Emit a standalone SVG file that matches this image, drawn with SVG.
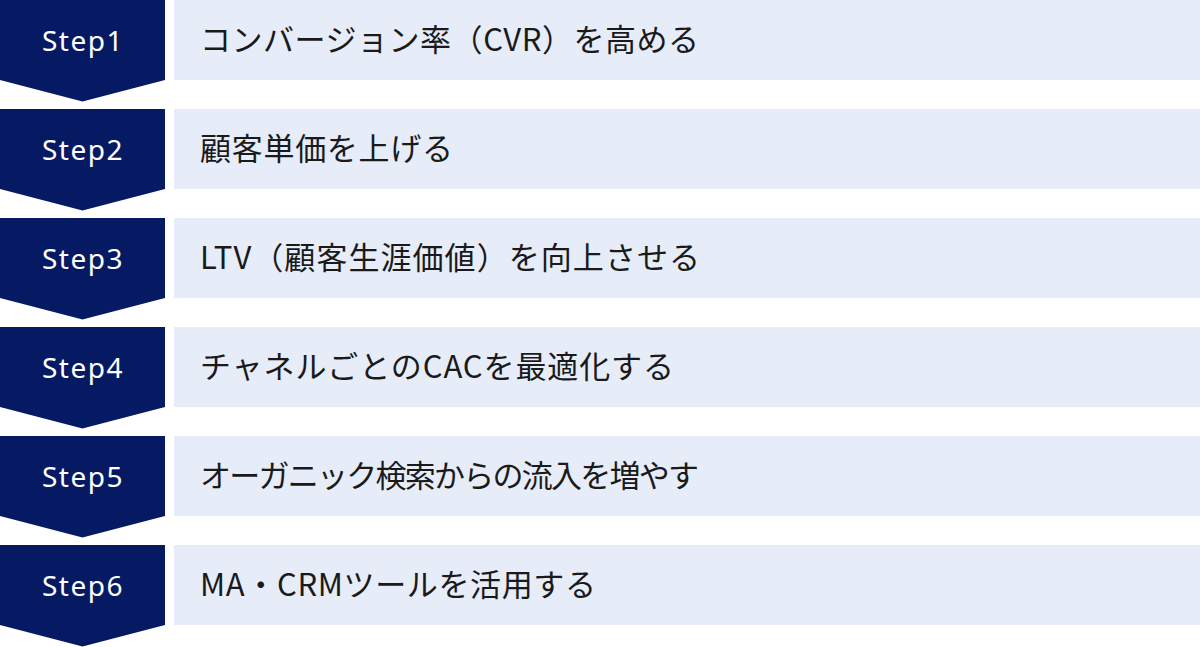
<svg xmlns="http://www.w3.org/2000/svg" width="1200" height="647" viewBox="0 0 1200 647">
<defs>
<style>
.step{fill:#061a63}
.bar{fill:#e6ecf8}
.sl{font-family:"Noto Sans","DejaVu Sans",sans-serif;font-size:28px;fill:#ffffff;text-anchor:middle;letter-spacing:1.5px}
.tx{font-family:"Noto Sans CJK JP","Noto Sans",sans-serif;font-size:31px;fill:#1a1a1a}
</style>
<polygon id="chev" points="0,0 165,0 165,80 82.5,101.5 0,80"/>
</defs>
<rect width="1200" height="647" fill="#ffffff"/>
<g id="connectors"></g>
<g id="step1">
<use href="#chev" class="step" x="0" y="0"/>
<rect class="bar" x="174" y="0" width="1026" height="80"/>
<text class="sl" x="83" y="51">Step1</text>
<text class="tx" x="200" y="51" textLength="499" lengthAdjust="spacing">コンバージョン率（CVR）を高める</text>
</g>
<g id="step2">
<use href="#chev" class="step" x="0" y="109"/>
<rect class="bar" x="174" y="109" width="1026" height="80"/>
<text class="sl" x="83" y="160">Step2</text>
<text class="tx" x="200" y="160" textLength="253" lengthAdjust="spacing">顧客単価を上げる</text>
</g>
<g id="step3">
<use href="#chev" class="step" x="0" y="218"/>
<rect class="bar" x="174" y="218" width="1026" height="80"/>
<text class="sl" x="83" y="269">Step3</text>
<text class="tx" x="200" y="269" textLength="500" lengthAdjust="spacing">LTV（顧客生涯価値）を向上させる</text>
</g>
<g id="step4">
<use href="#chev" class="step" x="0" y="327"/>
<rect class="bar" x="174" y="327" width="1026" height="80"/>
<text class="sl" x="83" y="378">Step4</text>
<text class="tx" x="200" y="378" textLength="474" lengthAdjust="spacing">チャネルごとのCACを最適化する</text>
</g>
<g id="step5">
<use href="#chev" class="step" x="0" y="436"/>
<rect class="bar" x="174" y="436" width="1026" height="80"/>
<text class="sl" x="83" y="487">Step5</text>
<text class="tx" x="200" y="487" textLength="499" lengthAdjust="spacing">オーガニック検索からの流入を増やす</text>
</g>
<g id="step6">
<use href="#chev" class="step" x="0" y="545"/>
<rect class="bar" x="174" y="545" width="1026" height="80"/>
<text class="sl" x="83" y="596">Step6</text>
<text class="tx" x="200" y="596" textLength="396" lengthAdjust="spacing">MA・CRMツールを活用する</text>
</g>
</svg>
